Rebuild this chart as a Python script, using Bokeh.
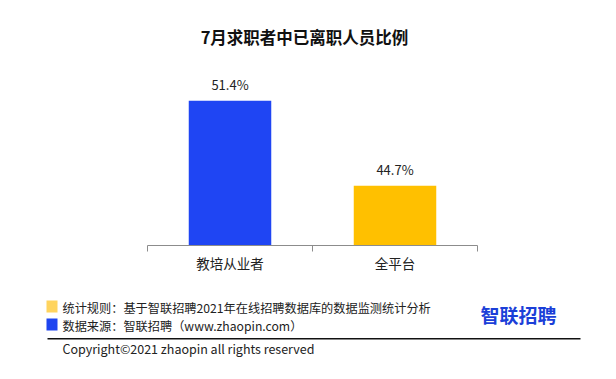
from bokeh.plotting import figure
from bokeh.models import Range1d, Label, BoxAnnotation, ColumnDataSource
from bokeh.embed import file_html
from bokeh.resources import INLINE
from bokeh.core.properties import value

# ---- data ----
title_text = "7月求职者中已离职人员比例"
categories = ["教培从业者", "全平台"]
values = [51.4, 44.7]
value_labels = ["51.4%", "44.7%"]
bar_colors = ["#1F45F3", "#FFC000"]
legend_items = ["统计规则：基于智联招聘2021年在线招聘数据库的数据监测统计分析",
                "数据来源：智联招聘（www.zhaopin.com）"]
legend_colors = ["#FFD45E", "#1F45F0"]
copyright_text = "Copyright©2021 zhaopin all rights reserved"
logo_text = "智联招聘"
axis_base = 40

# ---- layout ----
W, H = 600, 363
left_px, base_px, cat_px, ppu = 147, 245, 165, 12.69
FONT = "Noto Sans CJK SC"

p = figure(width=W, height=H, output_backend="svg", toolbar_location=None,
           x_range=Range1d(-left_px / cat_px, (W - left_px) / cat_px),
           y_range=Range1d(axis_base - (H - base_px) / ppu, axis_base + base_px / ppu),
           x_axis_location=None, y_axis_location=None, min_border=0)
p.outline_line_color = None
p.grid.visible = False
p.background_fill_color = "white"

n = len(categories)
src = ColumnDataSource(dict(
    x=[i + 0.5 for i in range(n)],
    top=values,
    color=bar_colors,
    label=value_labels,
    cat=categories,
))

p.vbar(x="x", top="top", bottom=axis_base, width=0.5, fill_color="color",
       line_color=None, source=src)

# axis line and boundary ticks
p.segment(x0=[0], y0=[axis_base], x1=[n], y1=[axis_base], line_color="#8C8C8C", line_width=1)
tick_len = 6 / ppu
p.segment(x0=list(range(n + 1)), y0=[axis_base] * (n + 1),
          x1=list(range(n + 1)), y1=[axis_base - tick_len] * (n + 1),
          line_color="#8C8C8C", line_width=1)

# value labels
p.text(x="x", y="top", text="label", source=src, y_offset=-16,
       text_align="center", text_baseline="middle", text_font=value(FONT),
       text_font_size="13px", text_color="#222222")
# category labels
p.text(x="x", y=axis_base, text="cat", source=src, y_offset=17,
       text_align="center", text_baseline="middle", text_font=value(FONT),
       text_font_size="13.5px", text_color="#222222")


def sy(py):
    return H - py


# title
p.add_layout(Label(x=304, y=sy(36), x_units="screen", y_units="screen", text=title_text,
                   text_align="center", text_baseline="middle", text_font=FONT,
                   text_font_size="16.5px", text_font_style="bold", text_color="#111111"))

# legend
rows_y = [306, 324]
for txt, col, ry in zip(legend_items, legend_colors, rows_y):
    p.add_layout(BoxAnnotation(left=46, right=57, top=sy(ry - 6), bottom=sy(ry + 6),
                               left_units="screen", right_units="screen",
                               top_units="screen", bottom_units="screen",
                               fill_color=col, fill_alpha=1, line_color=None))
    p.add_layout(Label(x=62, y=sy(ry + 1), x_units="screen", y_units="screen", text=txt,
                       text_align="left", text_baseline="middle", text_font=FONT,
                       text_font_size="12.2px", text_color="#222222"))

# rule
p.add_layout(BoxAnnotation(left=47, right=580, top=sy(337.5), bottom=sy(339),
                           left_units="screen", right_units="screen",
                           top_units="screen", bottom_units="screen",
                           fill_color="#111111", fill_alpha=1, line_color=None))

# copyright
p.add_layout(Label(x=62, y=sy(348), x_units="screen", y_units="screen", text=copyright_text,
                   text_align="left", text_baseline="middle", text_font=FONT,
                   text_font_size="12.5px", text_color="#222222"))

# logo
p.add_layout(Label(x=480, y=sy(314), x_units="screen", y_units="screen", text=logo_text,
                   text_align="left", text_baseline="middle", text_font=FONT,
                   text_font_size="19px", text_font_style="bold", text_color="#1B3FD8"))

open("out.html", "w").write(file_html(p, INLINE))
